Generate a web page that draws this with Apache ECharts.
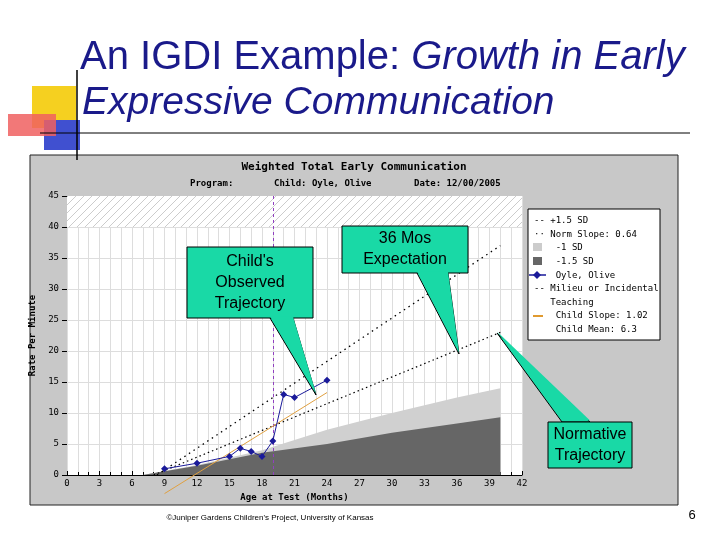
<!DOCTYPE html>
<html><head><meta charset="utf-8">
<script src="https://cdn.jsdelivr.net/npm/echarts@6/dist/echarts.min.js"></script>
<style>html,body{margin:0;padding:0;background:#fff}#c{width:720px;height:540px}</style>
</head><body><div id="c"></div>
<script>
const childName = 'Oyle, Olive';
const childPts = [[9,1],[12,1.9],[15,3],[16,4.3],[17,3.8],[18,3],[19,5.5],[20,13],[21,12.5],[24,15.3]];
const plus15SD = [[8.3,0],[40,37]];
const normLine = [[8,0],[40,23]];
const minus1SD = [[7,0],[12,1.6],[18,4],[24,7.3],[30,10],[36,12.5],[40,14]];
const minus15SD = [[7,0],[12,1.5],[18,3.6],[24,5],[30,6.8],[36,8.3],[40,9.3]];
const childSlope = [[9,-3],[24,13.3]];
const mono = 'DejaVu Sans Mono';
const chart = echarts.init(document.getElementById('c'));
const callout = (pts, box, lines, fs) => [
  {type:'polygon', shape:{points:pts}, style:{fill:'#19d9a6', stroke:'#000', lineWidth:1}, z:20},
  {type:'rect', shape:{x:box[0],y:box[1],width:box[2],height:box[3]}, style:{fill:'#19d9a6', stroke:'#000', lineWidth:1}, z:21},
  {type:'polygon', shape:{points:pts.map(p=>[p[0],p[1]-1.5])}, style:{fill:'#19d9a6'}, z:22},
  {type:'text', x:box[0]+box[2]/2, y:box[1]+box[3]/2, style:{text:lines, fill:'#000', font:fs+'px Arial', align:'center', verticalAlign:'middle', lineHeight:fs+5}, z:23}
];
const hatch = (()=>{const c=document.createElement('canvas');c.width=8;c.height=8;const g=c.getContext('2d');g.fillStyle='#fff';g.fillRect(0,0,8,8);g.strokeStyle='#ccc';g.beginPath();g.moveTo(0,8);g.lineTo(8,0);g.stroke();return c;})();
chart.setOption({
  animation:false,
  grid:{left:67, right:198, top:196, bottom:65},
  xAxis:{type:'value', min:0, max:42, interval:3, name:'Age at Test (Months)', nameLocation:'middle', nameGap:14,
    nameTextStyle:{fontFamily:mono, fontSize:9, fontWeight:'bold', color:'#000'},
    axisLine:{lineStyle:{color:'#000'}}, axisTick:{inside:true,length:4,lineStyle:{color:'#000'}},
    minorTick:{show:true, splitNumber:3, length:3, lineStyle:{color:'#000'}},
    minorSplitLine:{show:true, lineStyle:{color:'#ddd'}},
    splitLine:{show:true, lineStyle:{color:'#ddd'}},
    axisLabel:{fontFamily:mono, fontSize:9, color:'#000', margin:4}},
  yAxis:{type:'value', min:0, max:45, interval:5, name:'Rate Per Minute', nameLocation:'middle', nameGap:26,
    nameTextStyle:{fontFamily:mono, fontSize:9, fontWeight:'bold', color:'#000'},
    axisLine:{show:false}, axisTick:{show:true,lineStyle:{color:'#000'}},
    splitLine:{show:true, lineStyle:{color:'#ddd'}},
    axisLabel:{fontFamily:mono, fontSize:9, color:'#000'}},
  series:[
    {type:'line', data:minus1SD, symbol:'none', lineStyle:{width:0}, areaStyle:{color:'#d0d0d0', opacity:1}, z:2},
    {type:'line', data:minus15SD, symbol:'none', lineStyle:{width:0}, areaStyle:{color:'#666', opacity:1}, z:3,
      markArea:{silent:true, itemStyle:{color:{image:hatch, repeat:'repeat'}}, data:[[{coord:[0,40]},{coord:[42,45]}]]},
      markLine:{silent:true, symbol:'none', label:{show:false}, lineStyle:{color:'#9040c0', type:[3,3], width:1}, data:[{xAxis:19}]}},
    {type:'line', data:plus15SD, symbol:'none', lineStyle:{color:'#000', type:[1.5,4], width:1.3}, z:4},
    {type:'line', data:normLine, symbol:'none', lineStyle:{color:'#000', type:[1.5,3], width:1.2}, z:4},
    {type:'line', data:childSlope, symbol:'none', clip:false, lineStyle:{color:'#e0a040', width:1}, z:5},
    {type:'line', data:childPts, symbol:'diamond', symbolSize:7, itemStyle:{color:'#1a1a9a'}, lineStyle:{color:'#1a1a9a', width:1}, z:6}
  ],
  graphic:[
    {type:'rect', shape:{x:30,y:155,width:648,height:350}, style:{fill:'#c8c8c8', stroke:'#222', lineWidth:1}, z:-10, silent:true},
    {type:'rect', shape:{x:67,y:196,width:455,height:279}, style:{fill:'#fff'}, z:-9},
    {type:'rect', shape:{x:32,y:86,width:44,height:42}, style:{fill:'#f5d020'}, z:1},
    {type:'rect', shape:{x:8,y:114,width:48,height:22}, style:{fill:'#f06060', opacity:0.85}, z:2},
    {type:'rect', shape:{x:44,y:120,width:36,height:30}, style:{fill:'#4050d0'}, z:1},
    {type:'line', shape:{x1:77,y1:70,x2:77,y2:160}, style:{stroke:'#000', lineWidth:1.5}, z:3},
    {type:'line', shape:{x1:40,y1:133,x2:690,y2:133}, style:{stroke:'#000', lineWidth:1}, z:3},
    {type:'text', x:80, y:38, style:{text:'{n|An IGDI Example: }{i|Growth in Early}', rich:{n:{font:'40px Arial', fill:'#1a1a8a'}, i:{font:'italic 40px Arial', fill:'#1a1a8a'}}}, z:5},
    {type:'text', x:82, y:84, style:{text:'Expressive Communication', font:'italic 39px Arial', fill:'#1a1a8a'}, z:5},
    {type:'text', x:354, y:167, style:{text:'Weighted Total Early Communication', font:'bold 11px '+mono, fill:'#000', align:'center', verticalAlign:'middle'}},
    {type:'text', x:190, y:184, style:{text:'Program:', font:'bold 9px '+mono, fill:'#000', verticalAlign:'middle'}},
    {type:'text', x:274, y:184, style:{text:'Child: Oyle, Olive', font:'bold 9px '+mono, fill:'#000', verticalAlign:'middle'}},
    {type:'text', x:414, y:184, style:{text:'Date: 12/00/2005', font:'bold 9px '+mono, fill:'#000', verticalAlign:'middle'}},
    {type:'rect', shape:{x:528,y:209,width:132,height:131}, style:{fill:'#fff', stroke:'#000', lineWidth:1}},
    {type:'text', x:534, y:214, style:{text:'-- +1.5 SD\n·· Norm Slope: 0.64\n    -1 SD\n    -1.5 SD\n    '+childName+'\n-- Milieu or Incidental\n   Teaching\n    Child Slope: 1.02\n    Child Mean: 6.3', font:'9px '+mono, fill:'#000', lineHeight:13.6}},
    {type:'rect', shape:{x:533,y:243,width:9,height:8}, style:{fill:'#ccc'}},
    {type:'rect', shape:{x:533,y:257,width:9,height:8}, style:{fill:'#666'}},
    {type:'line', shape:{x1:529,y1:275,x2:546,y2:275}, style:{stroke:'#1a1a9a', lineWidth:1.5}},
    {type:'polygon', shape:{points:[[537,271],[541,275],[537,279],[533,275]]}, style:{fill:'#1a1a9a'}},
    {type:'line', shape:{x1:533,y1:316,x2:543,y2:316}, style:{stroke:'#e09a30', lineWidth:2}},
    ...callout([[270,318],[293,318],[316,395]], [187,247,126,71], "Child's\nObserved\nTrajectory", 16),
    ...callout([[417,273],[448,273],[459,354]], [342,226,126,47], '36 Mos\nExpectation', 16),
    ...callout([[562,422],[590,422],[497,333]], [548,422,84,46], 'Normative\nTrajectory', 16),
    {type:'text', x:270, y:518, style:{text:'©Juniper Gardens Children\'s Project, University of Kansas', font:'8px Arial', fill:'#000', align:'center', verticalAlign:'middle'}},
    {type:'text', x:692, y:515, style:{text:'6', font:'13px Arial', fill:'#000', align:'center', verticalAlign:'middle'}}
  ]
});
</script></body></html>
